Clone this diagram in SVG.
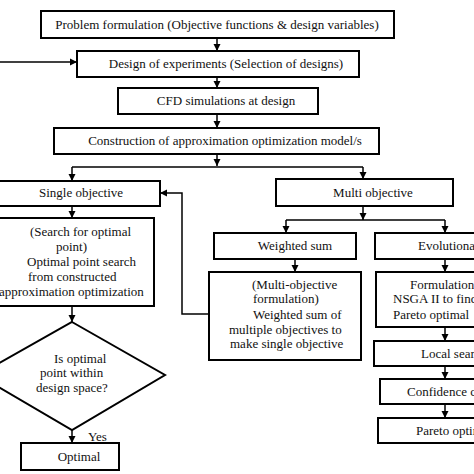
<svg xmlns="http://www.w3.org/2000/svg" width="474" height="474" viewBox="0 0 474 474">
<defs>
<marker id="ah" markerWidth="8" markerHeight="8" refX="7" refY="4" orient="auto" markerUnits="userSpaceOnUse">
<path d="M0,0.5 L7,4 L0,7.5 Z" fill="#000"/>
</marker>
<style>
.b{fill:#fff;stroke:#000;stroke-width:2}
.t{font-family:'Liberation Serif','Times New Roman',Times,serif;font-size:13px;fill:#111}
.m{text-anchor:middle}
.c{fill:none;stroke:#000;stroke-width:1.5}
.a{marker-end:url(#ah)}
</style>
</defs>
<rect width="474" height="474" fill="#fff"/>
<g id="connectors">
<line class="c a" x1="217" y1="38" x2="217" y2="51"/>
<line class="c a" x1="0" y1="62" x2="77" y2="62"/>
<line class="c a" x1="217" y1="77" x2="217" y2="88"/>
<line class="c a" x1="217" y1="114" x2="217" y2="128"/>
<line class="c a" x1="217" y1="154" x2="217" y2="166"/>
<line class="c" x1="72" y1="167" x2="363" y2="167"/>
<line class="c a" x1="72" y1="167" x2="72" y2="181"/>
<line class="c a" x1="363" y1="167" x2="363" y2="179"/>
<line class="c a" x1="72" y1="206" x2="72" y2="218"/>
<line class="c a" x1="72" y1="306" x2="72" y2="322"/>
<line class="c a" x1="72" y1="430" x2="72" y2="443"/>
<line class="c a" x1="363" y1="206" x2="363" y2="220"/>
<line class="c" x1="286" y1="220" x2="445" y2="220"/>
<line class="c a" x1="286" y1="220" x2="286" y2="233"/>
<line class="c a" x1="445" y1="220" x2="445" y2="233"/>
<line class="c a" x1="295" y1="259" x2="295" y2="272"/>
<line class="c a" x1="445" y1="259" x2="445" y2="272"/>
<line class="c a" x1="445" y1="327" x2="445" y2="341"/>
<line class="c a" x1="445" y1="366" x2="445" y2="379"/>
<line class="c a" x1="445" y1="404" x2="445" y2="418"/>
<polyline class="c a" points="209,314 182,314 182,193 160,193"/>
<text class="t" x="88" y="441">Yes</text>
</g>
<g id="n1"><rect class="b" x="41" y="11" width="353" height="27"/><text class="t m" x="217" y="29">Problem formulation (Objective functions &amp; design variables)</text></g>
<g id="n2"><rect class="b" x="77" y="51" width="282" height="26"/><text class="t m" x="226" y="68">Design of experiments (Selection of designs)</text></g>
<g id="n3"><rect class="b" x="118" y="88" width="200" height="26"/><text class="t m" x="226" y="105">CFD simulations at design</text></g>
<g id="n4"><rect class="b" x="54" y="128" width="325" height="26"/><text class="t m" x="225" y="145">Construction of approximation optimization model/s</text></g>
<g id="n5"><rect class="b" x="-5" y="181" width="165" height="25"/><text class="t m" x="81" y="197">Single objective</text></g>
<g id="n6"><rect class="b" x="-5" y="218" width="159" height="88"/>
<text class="t" x="30" y="236">(Search for optimal</text>
<text class="t" x="56" y="251">point)</text>
<text class="t" x="27" y="266">Optimal point search</text>
<text class="t" x="28" y="281">from constructed</text>
<text class="t" x="-1" y="296">approximation optimization</text></g>
<g id="n7"><polygon class="b" points="72,322 165,375 72,430 -22,375"/>
<text class="t" x="54" y="363">Is optimal</text>
<text class="t" x="40" y="377">point within</text>
<text class="t" x="36" y="392">design space?</text></g>
<g id="n8"><rect class="b" x="21" y="443" width="98" height="27"/><text class="t m" x="79" y="461">Optimal</text></g>
<g id="n9"><rect class="b" x="276" y="179" width="177" height="27"/><text class="t m" x="373" y="197">Multi objective</text></g>
<g id="n10"><rect class="b" x="214" y="233" width="142" height="26"/><text class="t m" x="295" y="250">Weighted sum</text></g>
<g id="n11"><rect class="b" x="209" y="272" width="152" height="88"/>
<text class="t" x="252" y="289">(Multi-objective</text>
<text class="t" x="253" y="303">formulation)</text>
<text class="t" x="253" y="319">Weighted sum of</text>
<text class="t" x="229" y="334">multiple objectives to</text>
<text class="t" x="230" y="348">make single objective</text></g>
<g id="n12"><rect class="b" x="375" y="233" width="110" height="26"/><text class="t" x="418" y="250">Evolutionary</text></g>
<g id="n13"><rect class="b" x="376" y="272" width="110" height="55"/>
<text class="t" x="410" y="289">Formulation</text>
<text class="t" x="393" y="303">NSGA II to find</text>
<text class="t" x="393" y="319">Pareto optimal</text></g>
<g id="n14"><rect class="b" x="374" y="341" width="110" height="25"/><text class="t" x="421" y="358">Local search</text></g>
<g id="n15"><rect class="b" x="380" y="379" width="110" height="25"/><text class="t" x="407" y="396">Confidence check</text></g>
<g id="n16"><rect class="b" x="378" y="418" width="110" height="25"/><text class="t" x="416" y="435">Pareto optimal</text></g>
</svg>
